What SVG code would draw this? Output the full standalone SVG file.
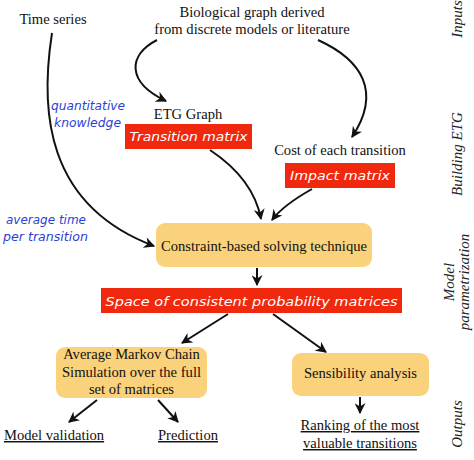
<svg xmlns="http://www.w3.org/2000/svg" width="474" height="460" viewBox="0 0 474 460">
<style>
.t{font-family:"Liberation Serif","Times New Roman",serif;font-size:14.6px;fill:#111;}
.c{text-anchor:middle;}
.u{text-decoration:underline;}
.h{font-family:"DejaVu Sans","Liberation Sans",sans-serif;font-style:italic;font-size:12.5px;fill:#fff;text-anchor:middle;}
.b{font-family:"DejaVu Sans","Liberation Sans",sans-serif;font-style:italic;font-size:11.5px;fill:#2b3fd6;}
.side{font-family:"Liberation Serif","Times New Roman",serif;font-style:italic;font-size:15px;fill:#222;text-anchor:middle;}
.red{fill:#f0280e;}
.org{fill:#fbd27c;}
.e{fill:none;stroke:#111;stroke-width:2;marker-end:url(#ah);}
</style>
<defs>
<marker id="ah" viewBox="0 0 10 10" refX="9" refY="5" markerWidth="5.5" markerHeight="5.5" orient="auto" markerUnits="strokeWidth">
<path d="M0,0 L10,5 L0,10 L3,5 z" fill="#111"/>
</marker>
</defs>
<rect width="474" height="460" fill="#fff"/>

<g id="connectors">
<path class="e" d="M157,40 C128,55 126,82 166,101"/>
<path class="e" d="M318,40 C362,60 382,92 352,137"/>
<path class="e" d="M52,33 C40,110 45,205 154,246"/>
<path class="e" d="M210,150 C240,170 256,192 261,219"/>
<path class="e" d="M312,189 C296,198 281,208 272,220"/>
<path class="e" d="M257,268 L257,285"/>
<path class="e" d="M228,314 L182,343"/>
<path class="e" d="M273,314 L326,352"/>
<path class="e" d="M97,400 L69,422"/>
<path class="e" d="M158,400 L178,422"/>
<path class="e" d="M360,397 L360,413"/>
</g>

<g id="time-series"><text class="t c" x="53" y="24">Time series</text></g>
<g id="bio-graph">
<text class="t c" x="252" y="17">Biological graph derived</text>
<text class="t c" x="252" y="34">from discrete models or literature</text>
</g>
<g id="etg-graph">
<text class="t c" x="188" y="119">ETG Graph</text>
<rect class="red" x="125" y="124" width="127" height="25"/>
<text class="h" x="188.5" y="141" textLength="118" lengthAdjust="spacingAndGlyphs">Transition matrix</text>
</g>
<g id="quant-label">
<text class="b" x="51" y="110" textLength="74" lengthAdjust="spacingAndGlyphs">quantitative</text>
<text class="b" x="54" y="127" textLength="67" lengthAdjust="spacingAndGlyphs">knowledge</text>
</g>
<g id="cost">
<text class="t c" x="340" y="155">Cost of each transition</text>
<rect class="red" x="285" y="163" width="110" height="25"/>
<text class="h" x="340" y="180" textLength="100" lengthAdjust="spacingAndGlyphs">Impact matrix</text>
</g>
<g id="avg-label">
<text class="b" x="6" y="224" textLength="80" lengthAdjust="spacingAndGlyphs">average time</text>
<text class="b" x="3" y="241" textLength="85" lengthAdjust="spacingAndGlyphs">per transition</text>
</g>
<g id="constraint">
<rect class="org" x="156" y="223" width="216" height="44" rx="9"/>
<text class="t c" x="264" y="251" textLength="206" lengthAdjust="spacingAndGlyphs">Constraint-based solving technique</text>
</g>
<g id="space">
<rect class="red" x="101" y="288" width="301" height="25"/>
<text class="h" x="251.5" y="306" textLength="292" lengthAdjust="spacingAndGlyphs">Space of consistent probability matrices</text>
</g>
<g id="markov">
<rect class="org" x="56" y="347" width="151" height="51" rx="9"/>
<text class="t c" x="131.5" y="359">Average Markov Chain</text>
<text class="t c" x="131.5" y="377">Simulation over the full</text>
<text class="t c" x="131.5" y="394">set of matrices</text>
</g>
<g id="sensibility">
<rect class="org" x="292" y="353" width="137" height="43" rx="9"/>
<text class="t c" x="360.5" y="378">Sensibility analysis</text>
</g>
<g id="model-validation"><text class="t u" x="4" y="440">Model validation</text></g>
<g id="prediction"><text class="t u" x="158" y="440">Prediction</text></g>
<g id="ranking">
<text class="t c u" x="360" y="430">Ranking of the most</text>
<text class="t c u" x="360" y="448">valuable transitions</text>
</g>

<g id="side-labels">
<text class="side" transform="translate(462,19) rotate(-90)">Inputs</text>
<text class="side" transform="translate(462,154) rotate(-90)">Building ETG</text>
<text class="side" transform="translate(454,282) rotate(-90)">Model</text>
<text class="side" transform="translate(469,282) rotate(-90)">parametrization</text>
<text class="side" transform="translate(462,424) rotate(-90)">Outputs</text>
</g>
</svg>
